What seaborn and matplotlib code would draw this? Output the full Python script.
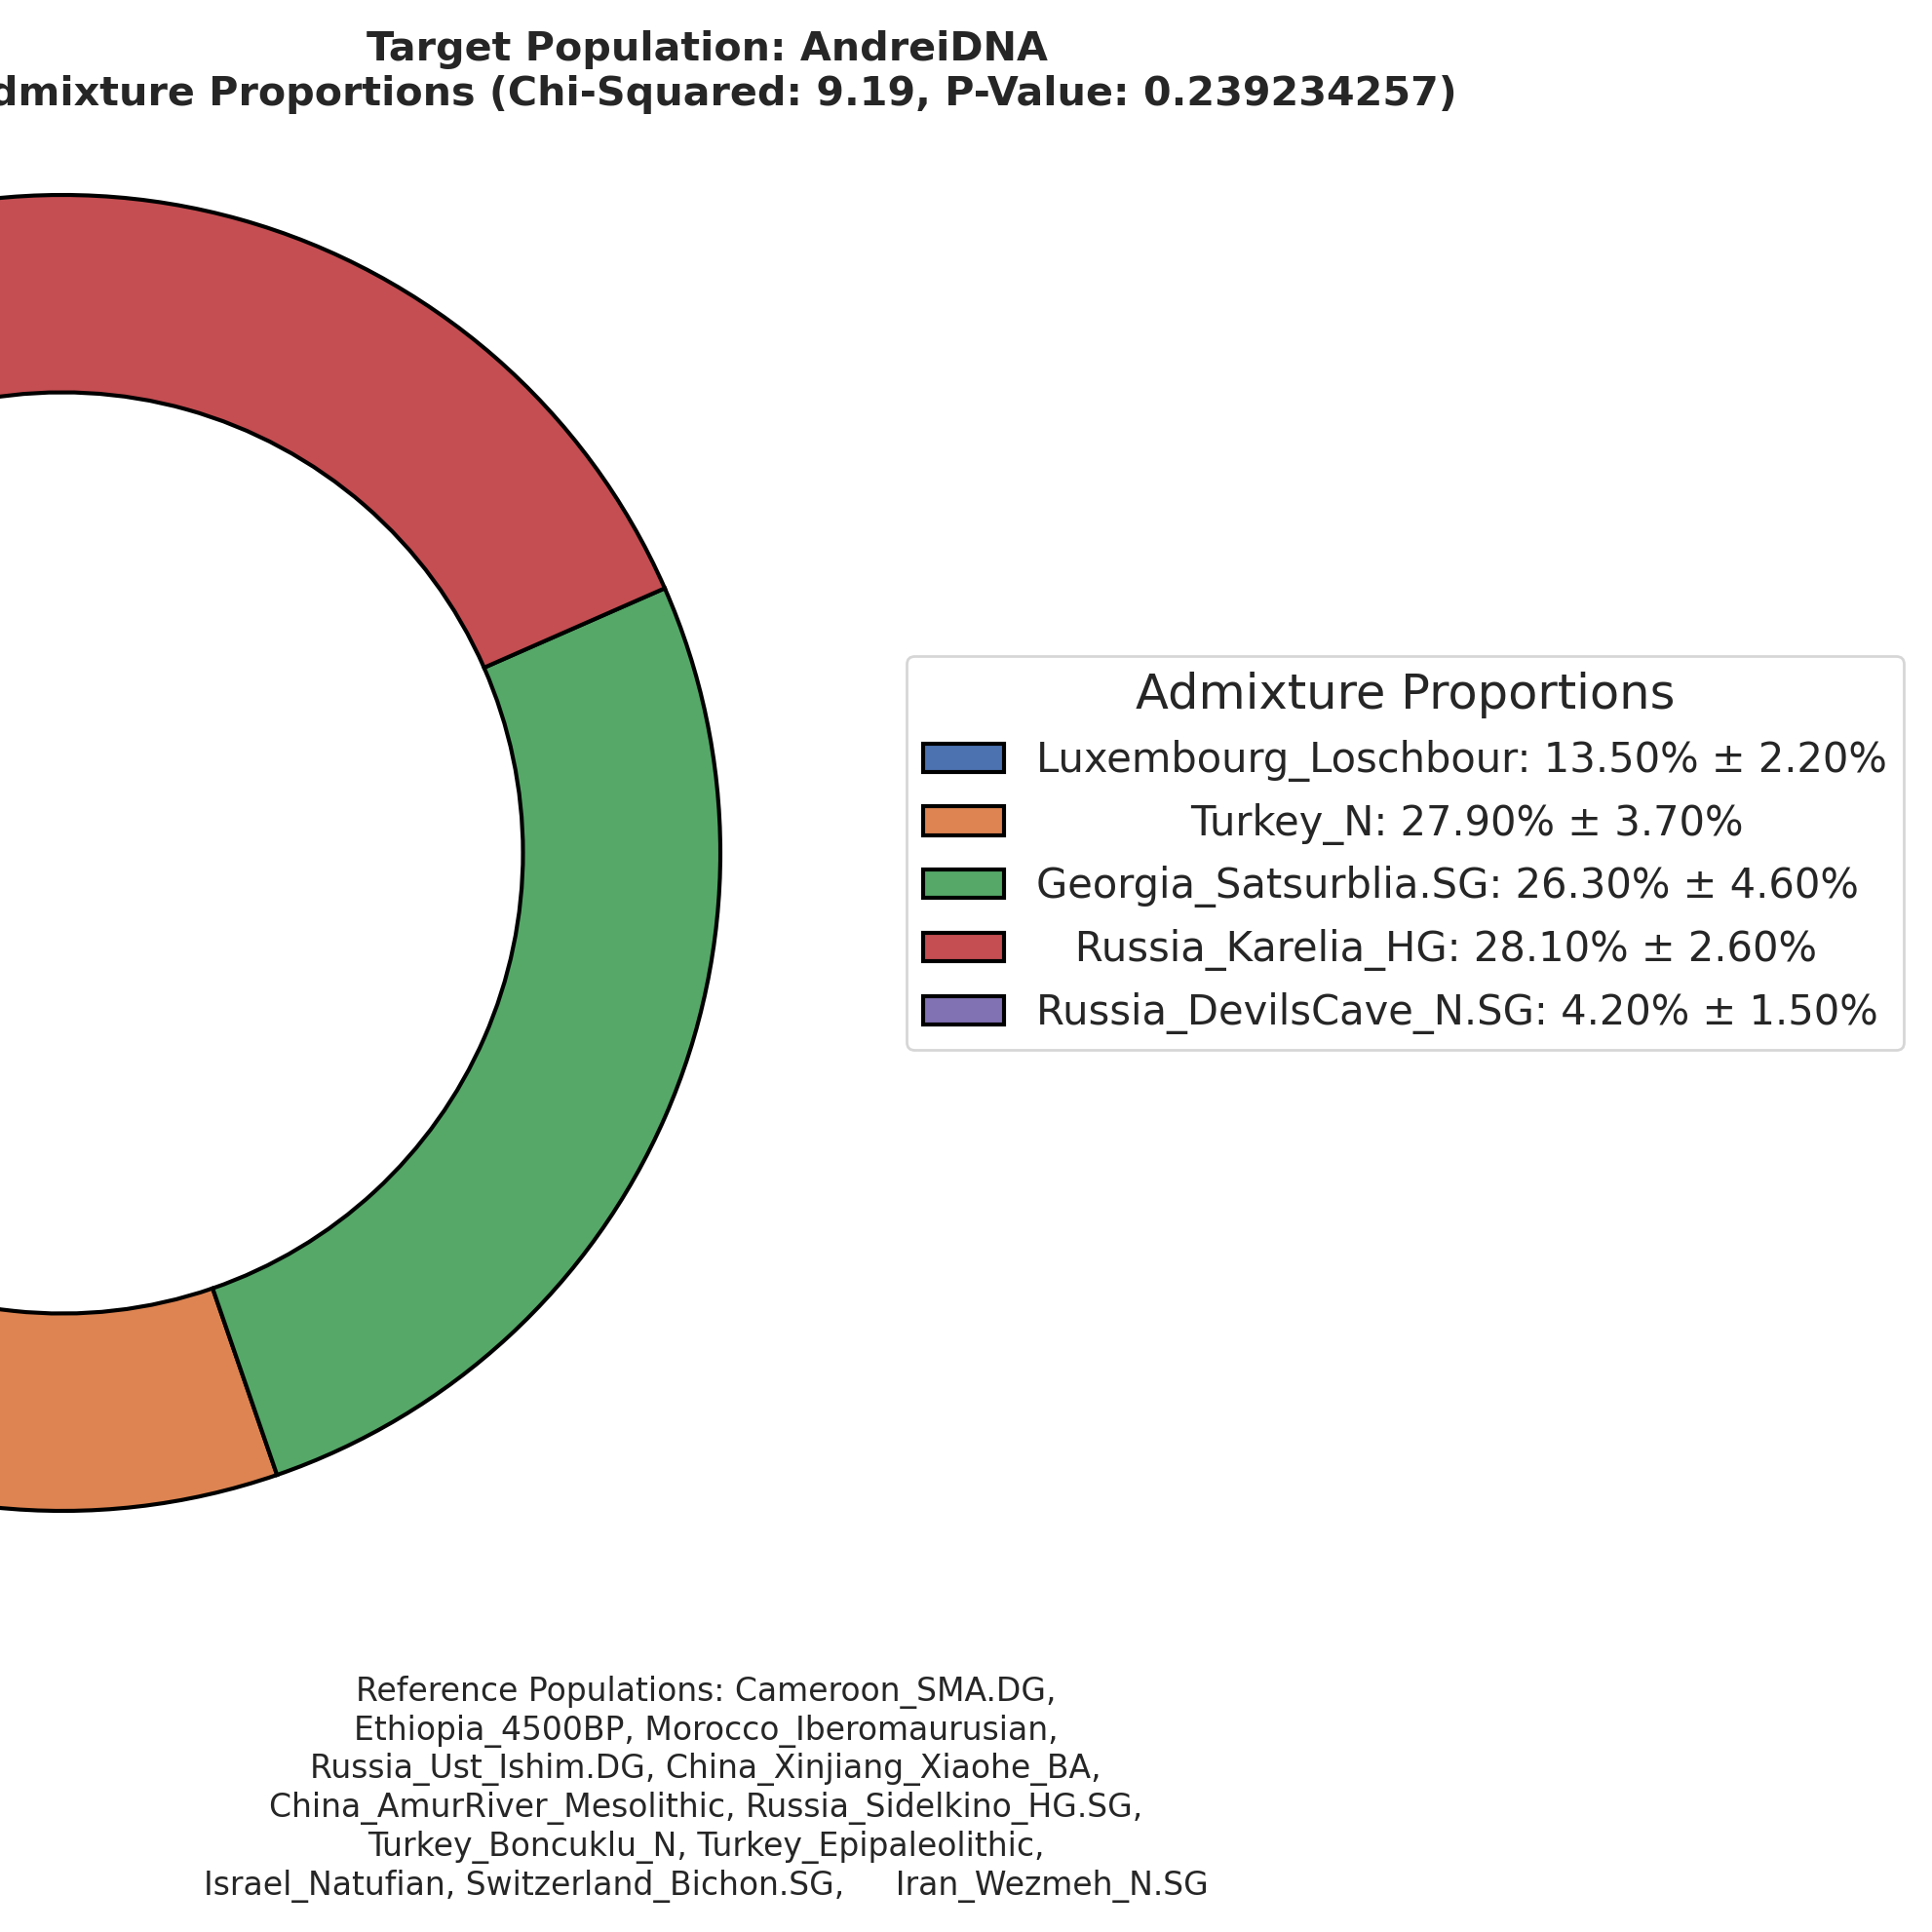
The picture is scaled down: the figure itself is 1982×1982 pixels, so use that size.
import matplotlib
matplotlib.use("Agg")
import matplotlib.pyplot as plt
import seaborn as sns

# ---- data ----
populations = ["Luxembourg_Loschbour", "Turkey_N", "Georgia_Satsurblia.SG",
               "Russia_Karelia_HG", "Russia_DevilsCave_N.SG"]
proportions = [13.5, 27.9, 26.3, 28.1, 4.2]
errors = [2.2, 3.7, 4.6, 2.6, 1.5]
label_pad = [0, 12, 0, 3, 0]
target = "AndreiDNA"
chi_squared = 9.19
p_value = "0.239234257"
reference_lines = [
    "Reference Populations: Cameroon_SMA.DG,",
    "Ethiopia_4500BP, Morocco_Iberomaurusian,",
    "Russia_Ust_Ishim.DG, China_Xinjiang_Xiaohe_BA,",
    "China_AmurRiver_Mesolithic, Russia_Sidelkino_HG.SG,",
    "Turkey_Boncuklu_N, Turkey_Epipaleolithic,",
    "Israel_Natufian, Switzerland_Bichon.SG,     Iran_Wezmeh_N.SG",
]

sns.set_theme(style="white")
plt.rcParams['font.family'] = ['DejaVu Sans']

W = 1982
fig = plt.figure(figsize=(10, 10), dpi=198.2)

cx, cy, R = 64, 875, 675
ax = fig.add_axes([(cx - R) / W, (W - cy - R) / W, 2 * R / W, 2 * R / W])
colors = sns.color_palette("deep", len(populations))
wedges, _ = ax.pie(proportions, colors=colors, startangle=140, counterclock=True,
                   wedgeprops=dict(width=0.3, edgecolor="black", linewidth=1.5))
ax.set_xlim(-1, 1)
ax.set_ylim(-1, 1)
ax.set_aspect("equal")
ax.axis("off")

labels = [" " * pad + f"{n}: {p:.2f}% ± {e:.2f}%"
          for n, p, e, pad in zip(populations, proportions, errors, label_pad)]
leg = ax.legend(wedges, labels, title="Admixture Proportions", loc="center left",
                bbox_to_anchor=(930 / W, 1 - cy / W), bbox_transform=fig.transFigure,
                borderaxespad=0, fontsize=15.15, title_fontsize=18, frameon=True,
                labelspacing=0.52)

fig.text(725.6 / W, 1 - 31 / W,
         f"Target Population: {target}\nAdmixture Proportions (Chi-Squared: {chi_squared:.2f}, P-Value: {p_value})",
         ha="center", va="top", fontsize=15, fontweight="bold", color="#262626")

fig.text(724 / W, 1 - 1719 / W, "\n".join(reference_lines),
         ha="center", va="top", fontsize=12, color="#262626",
         multialignment="center", linespacing=1.22)

fig.savefig("out.png", dpi=198.2)
